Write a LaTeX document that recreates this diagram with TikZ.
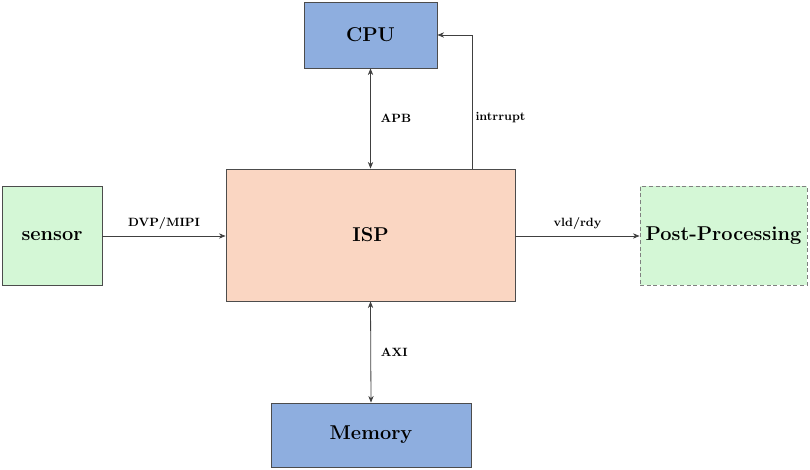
\documentclass[tikz,border=0pt]{standalone}
\usetikzlibrary{arrows.meta}
\definecolor{blu}{HTML}{8EAEDF}
\definecolor{isp}{HTML}{FAD6C2}
\definecolor{grn}{HTML}{D4F7D6}
\begin{document}
\begin{tikzpicture}[x=0.75pt,y=-0.75pt,
 box/.style={draw=black!70,line width=0.6pt,inner sep=0pt,font=\bfseries\fontsize{15}{18}\selectfont},
 lab/.style={font=\bfseries\fontsize{9}{11}\selectfont},
 conn/.style={draw=black!75,line width=0.6pt,-{Stealth[length=5pt,width=4pt]}},
 bconn/.style={conn,{Stealth[length=5pt,width=4pt]}-{Stealth[length=5pt,width=4pt]}}]
\useasboundingbox (0,0) rectangle (810,470);
\node[box,fill=blu,minimum width=133pt*0.75/0.75*0.75,minimum height=66*0.75pt,minimum width=133*0.75pt] (cpu) at (370.5,35) {CPU};
\node[box,fill=isp,minimum width=289*0.75pt,minimum height=132*0.75pt] (isp) at (370.5,235) {ISP};
\node[box,fill=grn,minimum width=100*0.75pt,minimum height=99*0.75pt] (sen) at (52,236) {sensor};
\node[box,fill=grn,draw=black!50,densely dashed,minimum width=167*0.75pt,minimum height=99*0.75pt] (post) at (723.5,236) {Post-Processing};
\node[box,fill=blu,minimum width=200*0.75pt,minimum height=64*0.75pt] (mem) at (371,435) {Memory};
\draw[bconn] (cpu.south) -- node[lab,right=4pt,pos=0.5]{APB} (isp.north);
\draw[bconn] (isp.south) -- node[lab,right=4pt,pos=0.5]{AXI} (mem.north);
\coordinate (c1) at (472,35);
\draw[conn] (isp.north -| c1) -- node[lab,right=-1pt,pos=0.38]{intrrupt} (c1) -- (cpu.east);
\draw[conn] (sen.east) -- node[lab,above=1pt]{DVP/MIPI} (sen.east -| isp.west);
\draw[conn] (isp.east |- post.west) -- node[lab,above=1pt]{vld/rdy} (post.west);
\end{tikzpicture}
\end{document}
